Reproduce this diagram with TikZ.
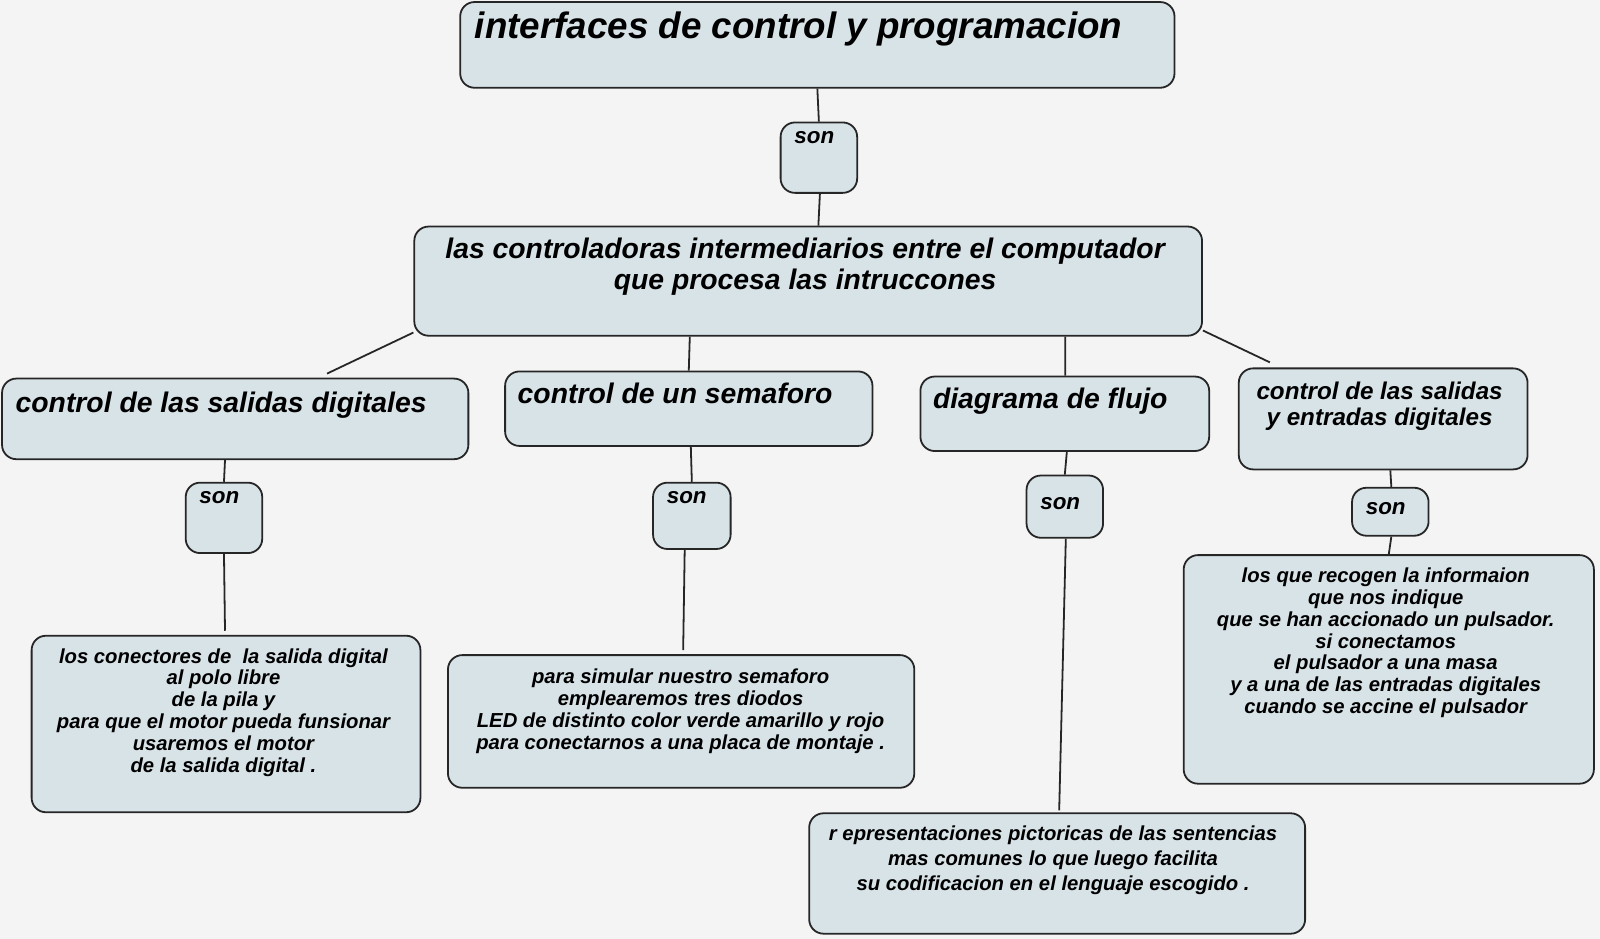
\documentclass[tikz,border=0pt]{standalone}
\usepackage{fontspec}
\setmainfont{Liberation Sans}
\usetikzlibrary{calc}
\definecolor{boxfill}{RGB}{216,227,232}
\definecolor{bg}{RGB}{244,244,244}
\begin{document}
\begin{tikzpicture}[x=0.02cm,y=-0.02cm,
  box/.style={draw=black!85,line width=1pt,fill=boxfill,rounded corners=8pt,inner sep=0pt},
  txt/.style={anchor=north,align=center,font=\bfseries\itshape,inner sep=0pt},
  conn/.style={draw=black!85,line width=1pt}]
\fill[bg] (0,0) rectangle (1568,920);
\useasboundingbox (0,0) rectangle (1568,920);
\newcommand{\bx}[5]{\node[box,minimum width={(#4-#2)*0.02cm},minimum height={(#5-#3)*0.02cm}] (#1) at ({(#2+#4)/2},{(#3+#5)/2}) {};}
\bx{title}{451}{2}{1151}{86}
\bx{son0}{765}{120}{840}{189}
\bx{main}{406}{222}{1178}{329}
\bx{A}{2}{371}{459}{450}
\bx{B}{495}{364}{855}{437}
\bx{C}{902}{369}{1185}{442}
\bx{D}{1214}{361}{1497}{460}
\bx{sA}{182}{473}{257}{542}
\bx{sB}{640}{473}{716}{538}
\bx{sC}{1006}{466}{1081}{527}
\bx{sD}{1325}{478}{1400}{525}
\bx{lA}{31}{623}{412}{796}
\bx{lB}{439}{642}{896}{772}
\bx{lC}{793}{797}{1279}{915}
\bx{lD}{1160}{544}{1562}{768}
\node[txt,anchor=north west,font=\bfseries\itshape\fontsize{20.5}{25}\selectfont] (tt) at (465,11) {interfaces de control y programacion};
\node[txt,font=\bfseries\itshape\fontsize{12.5}{15}\selectfont] (t0) at (798,128) {son};
\node[txt,font=\bfseries\itshape\fontsize{15.8}{17}\selectfont] (tm) at (789,233) {las controladoras intermediarios entre el computador\\que procesa las intruccones};
\node[txt,anchor=north west,font=\bfseries\itshape\fontsize{15.8}{20}\selectfont] (tA) at (15,384) {control de las salidas digitales};
\node[txt,anchor=north west,font=\bfseries\itshape\fontsize{15.8}{20}\selectfont] (tB) at (507,375) {control de un semaforo};
\node[txt,anchor=north west,font=\bfseries\itshape\fontsize{15.8}{20}\selectfont] (tC) at (914,380) {diagrama de flujo};
\node[txt,font=\bfseries\itshape\fontsize{13.5}{14.5}\selectfont] (tD) at (1352,374) {control de las salidas\\y entradas digitales};
\foreach \n/\x/\y in {sA/215/481,sB/673/481,sC/1039/487,sD/1358/492}
  \node[txt,font=\bfseries\itshape\fontsize{12.5}{15}\selectfont] (t\n) at (\x,\y) {son};
\node[txt,font=\bfseries\itshape\fontsize{11.3}{12.2}\selectfont] (tlA) at (219,635) {los conectores de\ \ la salida digital\\al polo libre\\de la pila y\\para que el motor pueda funsionar\\usaremos el motor\\de la salida digital .};
\node[txt,font=\bfseries\itshape\fontsize{11.3}{12.2}\selectfont] (tlB) at (667,655) {para simular nuestro semaforo\\emplearemos tres diodos\\LED de distinto color verde amarillo y rojo\\para conectarnos a una placa de montaje .};
\node[txt,font=\bfseries\itshape\fontsize{11.3}{13.8}\selectfont] (tlC) at (1032,809) {r epresentaciones pictoricas de las sentencias\\mas comunes lo que luego facilita\\su codificacion en el lenguaje escogido .};
\node[txt,font=\bfseries\itshape\fontsize{11.3}{12.2}\selectfont] (tlD) at (1358,556) {los que recogen la informaion\\que nos indique\\que se han accionado un pulsador.\\si conectamos\\el pulsador a una masa\\y a una de las entradas digitales\\cuando se accine el pulsador};
\draw[conn] (title.south) -- (son0.north);
\draw[conn] ($(son0.south)+(1,0)$) -- ($(main.north)+(10,0)$);
\draw[conn] ($(main.south west)+(0,-4)$) -- ($(A.north)+(90,-4)$);
\draw[conn] ($(main.south)+(-116,0)$) -- ($(B.north)+(0,0)$);
\draw[conn] ($(main.south)+(252,0)$) -- ($(C.north)+(0.5,0)$);
\draw[conn] ($(main.south east)+(0,-6)$) -- ($(D.north)+(-111,-5)$);
\draw[conn] ($(A.south)+(-10,0)$) -- (sA.north);
\draw[conn] (sA.south) -- ($(lA.north)+(-1,-4)$);
\draw[conn] ($(B.south)+(2,0)$) -- (sB.north);
\draw[conn] ($(sB.south)+(-7,0)$) -- ($(lB.north)+(2,-4)$);
\draw[conn] ($(C.south)+(2,0)$) -- (sC.north);
\draw[conn] ($(sC.south)+(1,0)$) -- ($(lC.north)+(2,-2)$);
\draw[conn] ($(D.south)+(7,0)$) -- ($(sD.north)+(1,0)$);
\draw[conn] ($(sD.south)+(1,0)$) -- ($(lD.north)+(0,0)$);
\end{tikzpicture}
\end{document}
